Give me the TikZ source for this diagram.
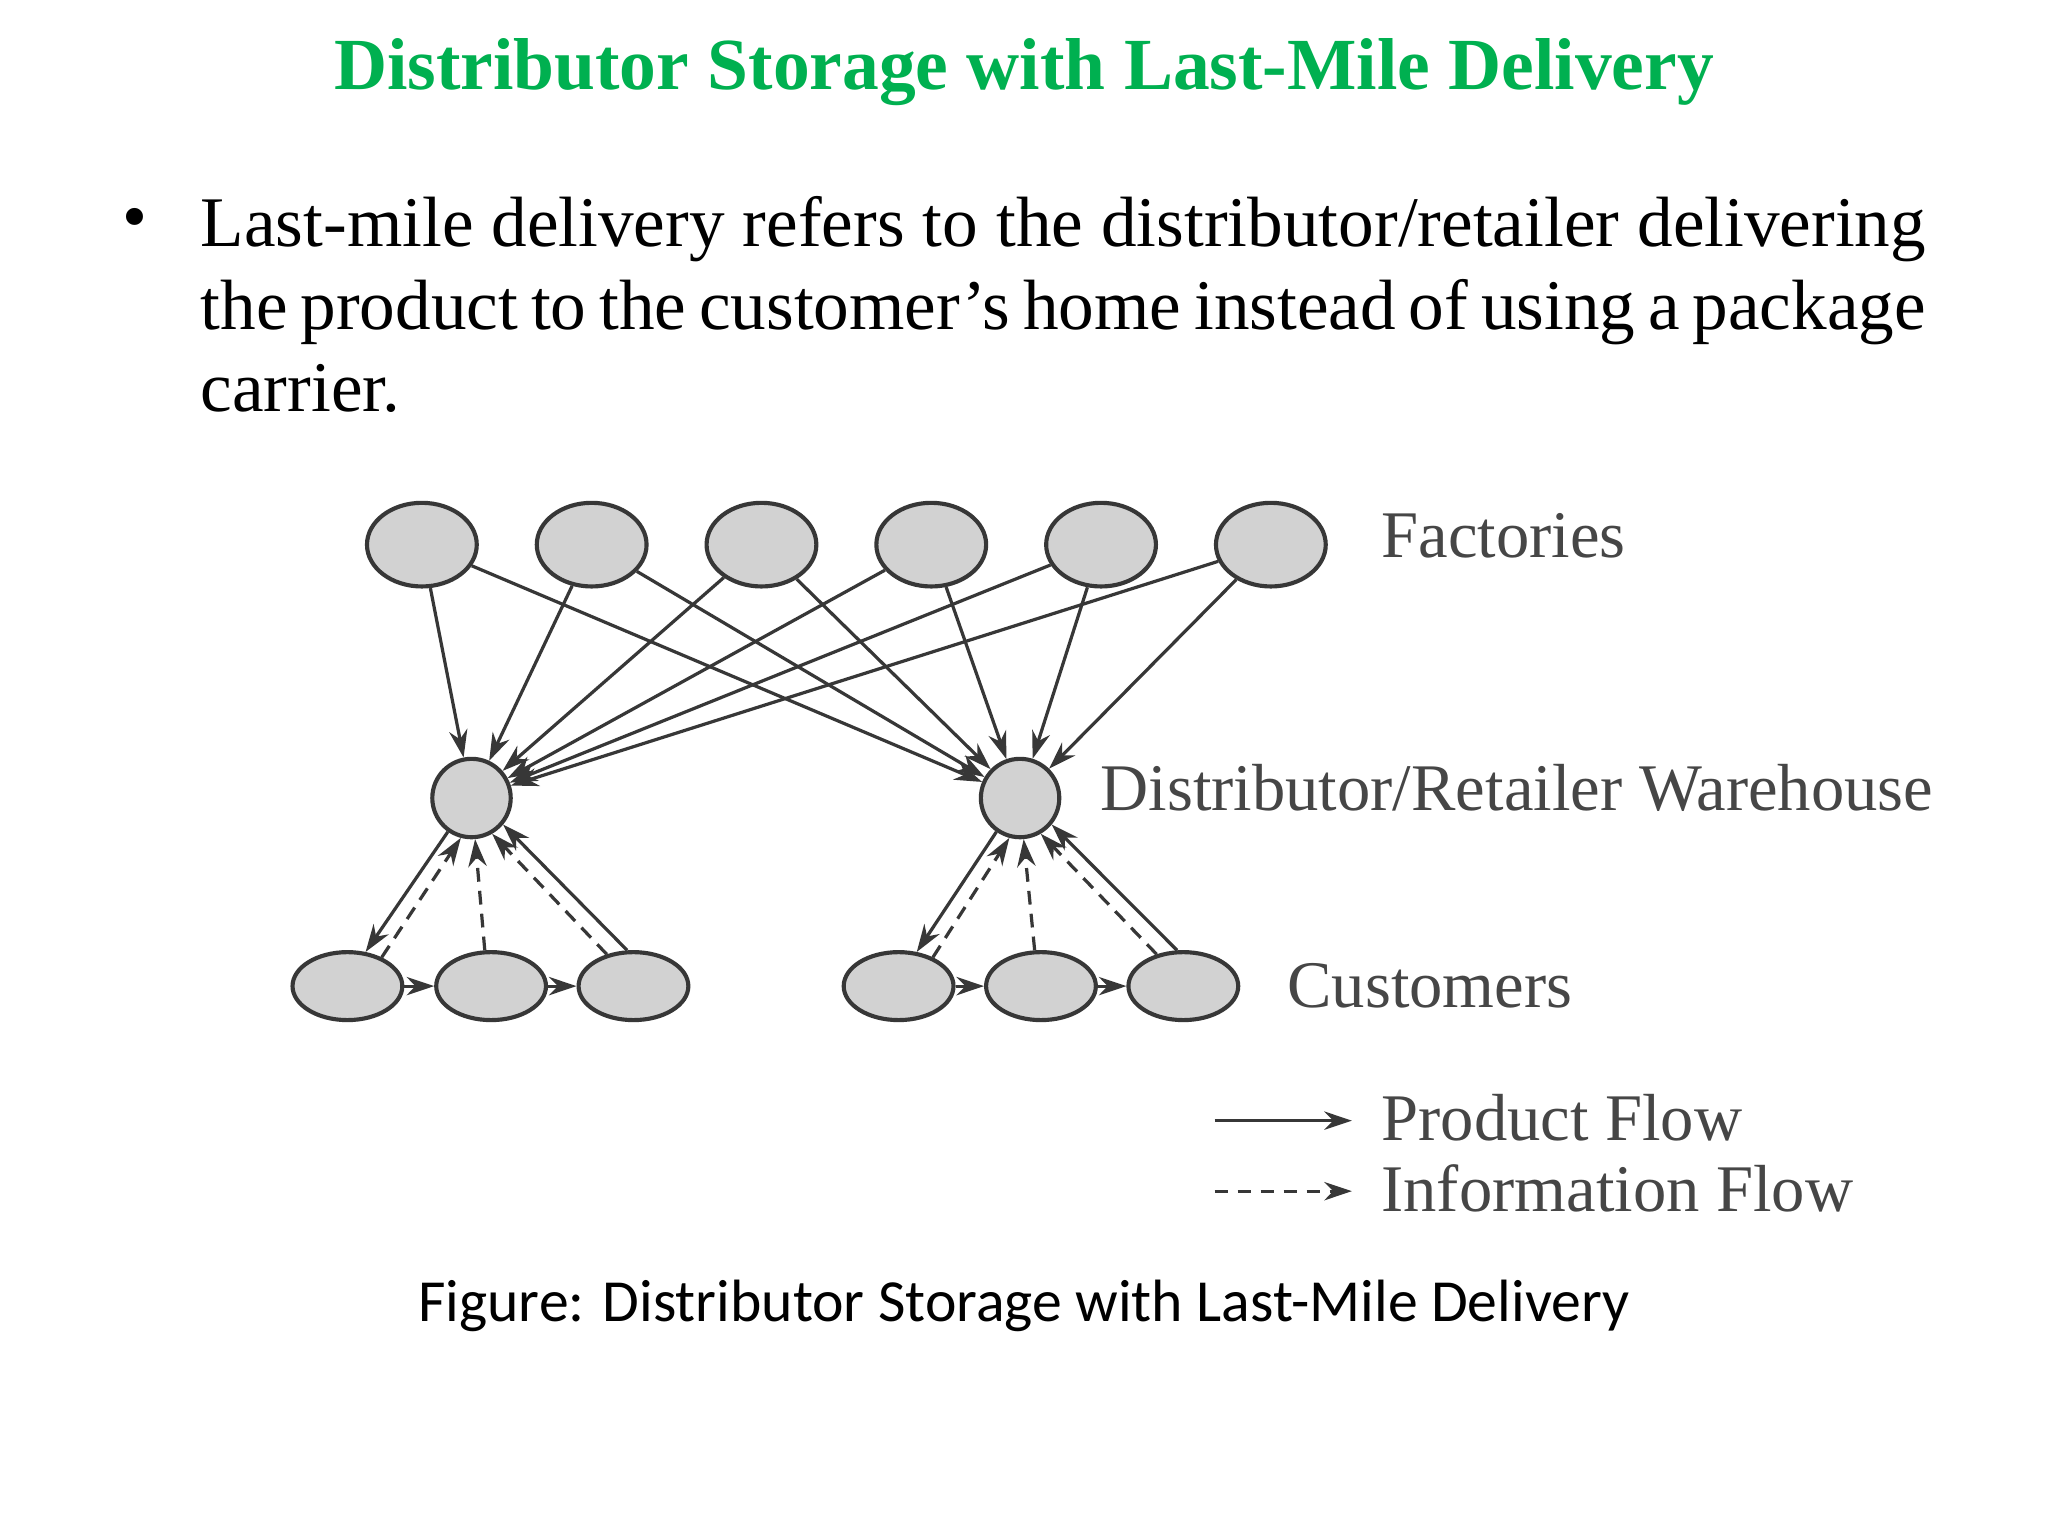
\documentclass[tikz,border=0pt]{standalone}
\usepackage{fontspec}
\setmainfont{Liberation Serif}
\newfontfamily\capfont{Carlito}
\usetikzlibrary{arrows.meta,shapes.geometric}
\definecolor{tgreen}{RGB}{0,176,80}
\definecolor{nfill}{RGB}{210,210,210}
\definecolor{nline}{RGB}{55,55,55}
\definecolor{lbl}{RGB}{70,70,70}
\begin{document}
\begin{tikzpicture}[x=0.01cm,y=-0.01cm,
  fac/.style={ellipse,draw=nline,fill=nfill,line width=0.9pt,minimum width=0.84cm,minimum height=0.64cm,inner sep=0},
  wh/.style={circle,draw=nline,fill=nfill,line width=0.9pt,minimum size=0.6cm,inner sep=0},
  cus/.style={ellipse,draw=nline,fill=nfill,line width=0.9pt,minimum width=0.84cm,minimum height=0.52cm,inner sep=0},
  pf/.style={draw=nline,line width=0.7pt,-{Stealth[length=6pt,width=4pt]}},
  inf/.style={pf,dash pattern=on 3pt off 2pt},
  lab/.style={anchor=west,text=lbl,font=\fontsize{14.5pt}{16pt}\selectfont,inner sep=0}]
\useasboundingbox (0,0) rectangle (1568,1176);
\fill[white] (0,0) rectangle (1568,1176);
\node[text=tgreen,font=\fontsize{16pt}{18pt}\selectfont\bfseries] (title) at (784,55) {Distributor Storage with Last-Mile Delivery};
\node (bul) at (103,172) {\fontsize{15.5pt}{18pt}\selectfont\textbullet};
\node[anchor=north west,inner sep=0,text width=13.2cm,align=justify,font=\fontsize{15.5pt}{17.9pt}\selectfont] (body) at (153,150)
{Last-mile delivery refers to the distributor/retailer delivering the product to the customer’s home instead of using a package carrier.};
\foreach \i/\x in {1/323,2/453,3/583,4/713,5/843,6/973} \node[fac] (f\i) at (\x,417) {};
\node[wh] (w1) at (361,611) {};
\node[wh] (w2) at (781,611) {};
\foreach \i/\x in {1/266,2/376,3/485,4/688,5/797,6/906} \node[cus] (c\i) at (\x,755) {};
\node[lab] (lf) at (1057,410) {Factories};
\node[lab] (lw) at (842,603) {Distributor/Retailer Warehouse};
\node[lab] (lc) at (985,755) {Customers};
\foreach \i in {1,...,6} {\draw[pf] (f\i) -- (w1); \draw[pf] (f\i) -- (w2);}
\draw[pf] (c1) -- (c2); \draw[pf] (c2) -- (c3);
\draw[pf] (c4) -- (c5); \draw[pf] (c5) -- (c6);
\draw[pf] (w1.235) -- (c1.62);
\draw[inf] (c1.40) -- (w1.255);
\draw[inf] (c2.100) -- (w1.275);
\draw[inf] (c3.130) -- (w1.300);
\draw[pf] (c3.100) -- (w1.320);
\draw[pf] (w2.235) -- (c4.62);
\draw[inf] (c4.40) -- (w2.255);
\draw[inf] (c5.100) -- (w2.275);
\draw[inf] (c6.130) -- (w2.300);
\draw[pf] (c6.100) -- (w2.320);
\coordinate (ps) at (930,858); \coordinate (pe) at (1035,858);
\coordinate (is) at (930,912); \coordinate (ie) at (1035,912);
\draw[pf] (ps) -- (pe);
\draw[inf] (is) -- (ie);
\node[lab] (lp) at (1057,856) {Product Flow};
\node[lab] (li) at (1057,910) {Information Flow};
\node[font=\capfont\fontsize{13pt}{15pt}\selectfont] (cap) at (784,1000) {Figure: Distributor Storage with Last-Mile Delivery};
\end{tikzpicture}
\end{document}
